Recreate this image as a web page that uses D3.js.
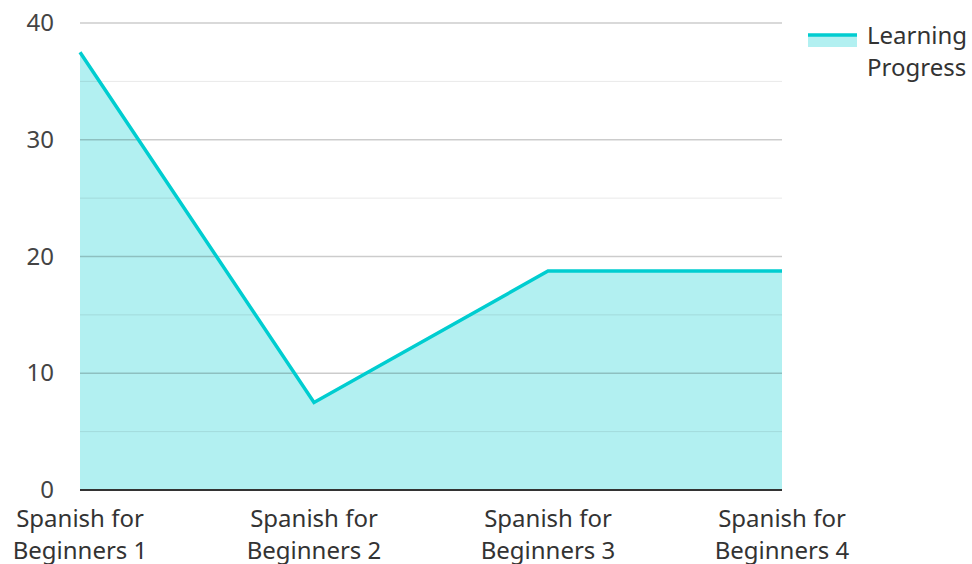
<!DOCTYPE html>
<html>
<head>
<meta charset="utf-8">
<script src="https://cdn.jsdelivr.net/npm/d3@7"></script>
<style>
  body { margin: 0; background: #fff; }
  text { font-family: "Noto Sans", "Open Sans", sans-serif; }
</style>
</head>
<body>
<script>
var categories = ["Spanish for Beginners 1", "Spanish for Beginners 2", "Spanish for Beginners 3", "Spanish for Beginners 4"];
var progress = [37.5, 7.5, 18.75, 18.75];
var yTicks = [0, 10, 20, 30, 40];
var yMinorTicks = [5, 15, 25, 35];
var seriesName = ["Learning", "Progress"];

var width = 972, height = 564;
var margin = {top: 23, right: 190, bottom: 74, left: 80};

var svg = d3.select("body").append("svg")
    .attr("width", width)
    .attr("height", height);

var x = d3.scalePoint()
    .domain(categories)
    .range([margin.left, width - margin.right]);

var y = d3.scaleLinear()
    .domain([0, 40])
    .range([height - margin.bottom, margin.top]);

var lineColor = "#00cdd0";
var fs = 24;

// area first
var area = d3.area()
    .x(function(d, i) { return x(categories[i]); })
    .y0(y(0))
    .y1(function(d) { return y(d); });

svg.append("path")
    .datum(progress)
    .attr("d", area)
    .attr("fill", lineColor)
    .attr("fill-opacity", 0.3);

// grid on top of the fill
svg.append("g").selectAll("line")
    .data(yMinorTicks)
    .enter().append("line")
    .attr("x1", x.range()[0]).attr("x2", x.range()[1])
    .attr("y1", function(d) { return y(d); })
    .attr("y2", function(d) { return y(d); })
    .attr("stroke", "#000")
    .attr("stroke-opacity", 0.09)
    .attr("stroke-width", 1);

svg.append("g").selectAll("line")
    .data(yTicks.filter(function(d) { return d > 0; }))
    .enter().append("line")
    .attr("x1", x.range()[0]).attr("x2", x.range()[1])
    .attr("y1", function(d) { return y(d); })
    .attr("y2", function(d) { return y(d); })
    .attr("stroke", "#000")
    .attr("stroke-opacity", 0.2)
    .attr("stroke-width", 1.5);

var line = d3.line()
    .x(function(d, i) { return x(categories[i]); })
    .y(function(d) { return y(d); });

svg.append("path")
    .datum(progress)
    .attr("d", line)
    .attr("fill", "none")
    .attr("stroke", lineColor)
    .attr("stroke-width", 3.5);

// baseline
svg.append("line")
    .attr("x1", x.range()[0]).attr("x2", x.range()[1])
    .attr("y1", y(0)).attr("y2", y(0))
    .attr("stroke", "#333")
    .attr("stroke-width", 2);

// y labels
svg.append("g").selectAll("text")
    .data(yTicks)
    .enter().append("text")
    .attr("x", 54)
    .attr("y", function(d) { return y(d) + 8; })
    .attr("text-anchor", "end")
    .attr("font-size", fs)
    .attr("fill", "#444")
    .text(function(d) { return d; });

// x labels, two lines
var xl = svg.append("g").selectAll("text")
    .data(categories)
    .enter().append("text")
    .attr("text-anchor", "middle")
    .attr("font-size", fs)
    .attr("fill", "#333");

xl.append("tspan")
    .attr("x", function(d) { return x(d); })
    .attr("y", 527)
    .text(function(d) { return d.split(" ").slice(0, 2).join(" "); });
xl.append("tspan")
    .attr("x", function(d) { return x(d); })
    .attr("y", 559)
    .text(function(d) { return d.split(" ").slice(2).join(" "); });

// legend
var lg = svg.append("g");
lg.append("rect")
    .attr("x", 808).attr("y", 35)
    .attr("width", 49).attr("height", 12)
    .attr("fill", lineColor)
    .attr("fill-opacity", 0.3);
lg.append("line")
    .attr("x1", 808).attr("x2", 857)
    .attr("y1", 35).attr("y2", 35)
    .attr("stroke", lineColor)
    .attr("stroke-width", 3.5);
lg.append("text")
    .attr("font-size", fs)
    .attr("fill", "#333")
    .selectAll("tspan")
    .data(seriesName)
    .enter().append("tspan")
    .attr("x", 867)
    .attr("y", function(d, i) { return 44 + i * 32; })
    .text(function(d) { return d; });
</script>
</body>
</html>
